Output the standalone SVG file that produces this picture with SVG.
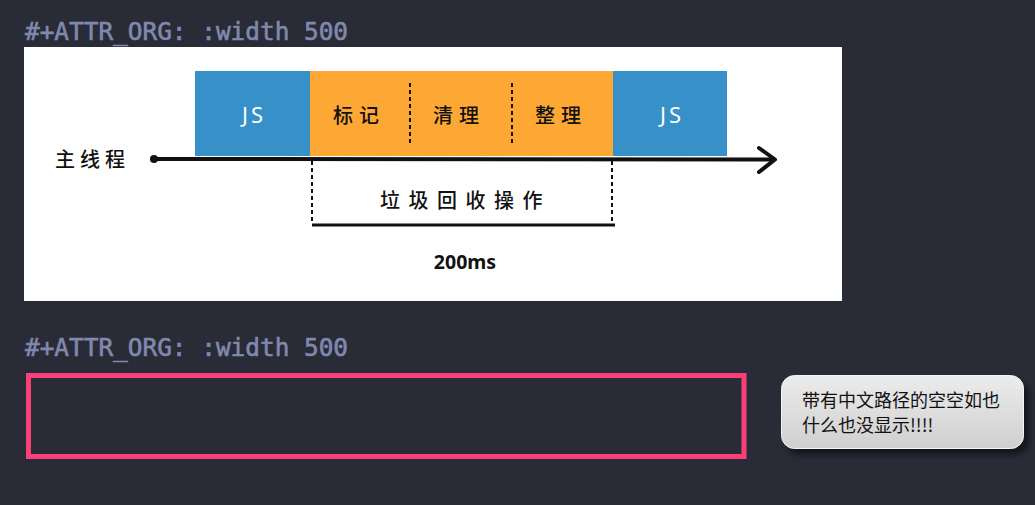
<svg xmlns="http://www.w3.org/2000/svg" width="1035" height="505" viewBox="0 0 1035 505">
<defs>
<style>
.hdr{font-family:"DejaVu Sans Mono","Liberation Mono",monospace;font-size:24.4px;fill:#8089ad;stroke:#8089ad;stroke-width:0.6px}
.cn{font-family:"Noto Sans CJK SC","Noto Sans",sans-serif;font-size:20px;fill:#111;font-weight:500}
.js{font-family:"Noto Sans","Liberation Sans",sans-serif;font-size:22px;fill:#fff;text-anchor:middle;letter-spacing:3px}
.dash{stroke:#111;stroke-width:2;stroke-dasharray:4 3;fill:none}
.tip{font-family:"Noto Sans CJK SC","Noto Sans",sans-serif;font-size:18px;fill:#111}
</style>
<linearGradient id="tipg" x1="0" y1="0" x2="0" y2="1">
<stop offset="0" stop-color="#ececec"/>
<stop offset="1" stop-color="#cfcfcf"/>
</linearGradient>
<filter id="sh" x="-10%" y="-20%" width="130%" height="160%">
<feGaussianBlur in="SourceAlpha" stdDeviation="3"/>
<feOffset dx="5" dy="6" result="b"/>
<feComponentTransfer><feFuncA type="linear" slope="0.5"/></feComponentTransfer>
<feMerge><feMergeNode/><feMergeNode in="SourceGraphic"/></feMerge>
</filter>
</defs>
<rect width="1035" height="505" fill="#292b37"/>
<text class="hdr" x="25" y="40">#+ATTR_ORG: :width 500</text>
<text class="hdr" x="25" y="356">#+ATTR_ORG: :width 500</text>

<g id="canvas">
<rect x="24" y="47" width="818" height="254" fill="#fff"/>
</g>

<g id="js1">
<rect x="195" y="71" width="115" height="85" fill="#3790c7"/>
<text class="js" x="254" y="123">JS</text>
</g>
<g id="gc">
<rect x="310" y="71" width="303" height="85" fill="#fda834"/>
<text class="cn" x="333" y="123" letter-spacing="6">标记</text>
<text class="cn" x="433" y="123" letter-spacing="6">清理</text>
<text class="cn" x="535" y="123" letter-spacing="6">整理</text>
</g>
<g id="js2">
<rect x="613" y="71" width="114" height="85" fill="#3790c7"/>
<text class="js" x="672" y="123">JS</text>
</g>
<g id="label-main">
<text class="cn" x="55" y="167" letter-spacing="5">主线程</text>
</g>
<g id="label-gc">
<text class="cn" x="380" y="208" letter-spacing="8.5">垃圾回收操作</text>
<text x="465" y="269" text-anchor="middle" font-family="'Noto Sans','Liberation Sans',sans-serif" font-size="19.5" font-weight="bold" fill="#111">200ms</text>
</g>

<g id="connectors">
<line class="dash" x1="410" y1="83" x2="410" y2="143"/>
<line class="dash" x1="512" y1="83" x2="512" y2="143"/>
<line class="dash" x1="312" y1="161" x2="312" y2="224"/>
<line class="dash" x1="612" y1="161" x2="612" y2="224"/>
<line x1="312" y1="225" x2="615" y2="225" stroke="#111" stroke-width="3"/>
<circle cx="154" cy="159" r="4" fill="#111"/>
<path d="M154 159 C300 158 500 160.5 774 159.5" stroke="#111" stroke-width="4" fill="none" stroke-linecap="round"/>
<path d="M759 148 L775 159.5 L759 172" stroke="#111" stroke-width="4" fill="none" stroke-linecap="round" stroke-linejoin="round"/>
</g>

<g id="empty-image">
<rect x="28.5" y="375.5" width="715.5" height="81" fill="none" stroke="#fb3f77" stroke-width="5"/>
</g>

<g id="tooltip">
<rect x="781.5" y="375.5" width="242" height="73" rx="13" fill="url(#tipg)" stroke="#f4f4f4" stroke-width="1" filter="url(#sh)"/>
<text class="tip" x="802" y="407">带有中文路径的空空如也</text>
<text class="tip" x="802" y="431.5">什么也没显示!!!!</text>
</g>
</svg>
